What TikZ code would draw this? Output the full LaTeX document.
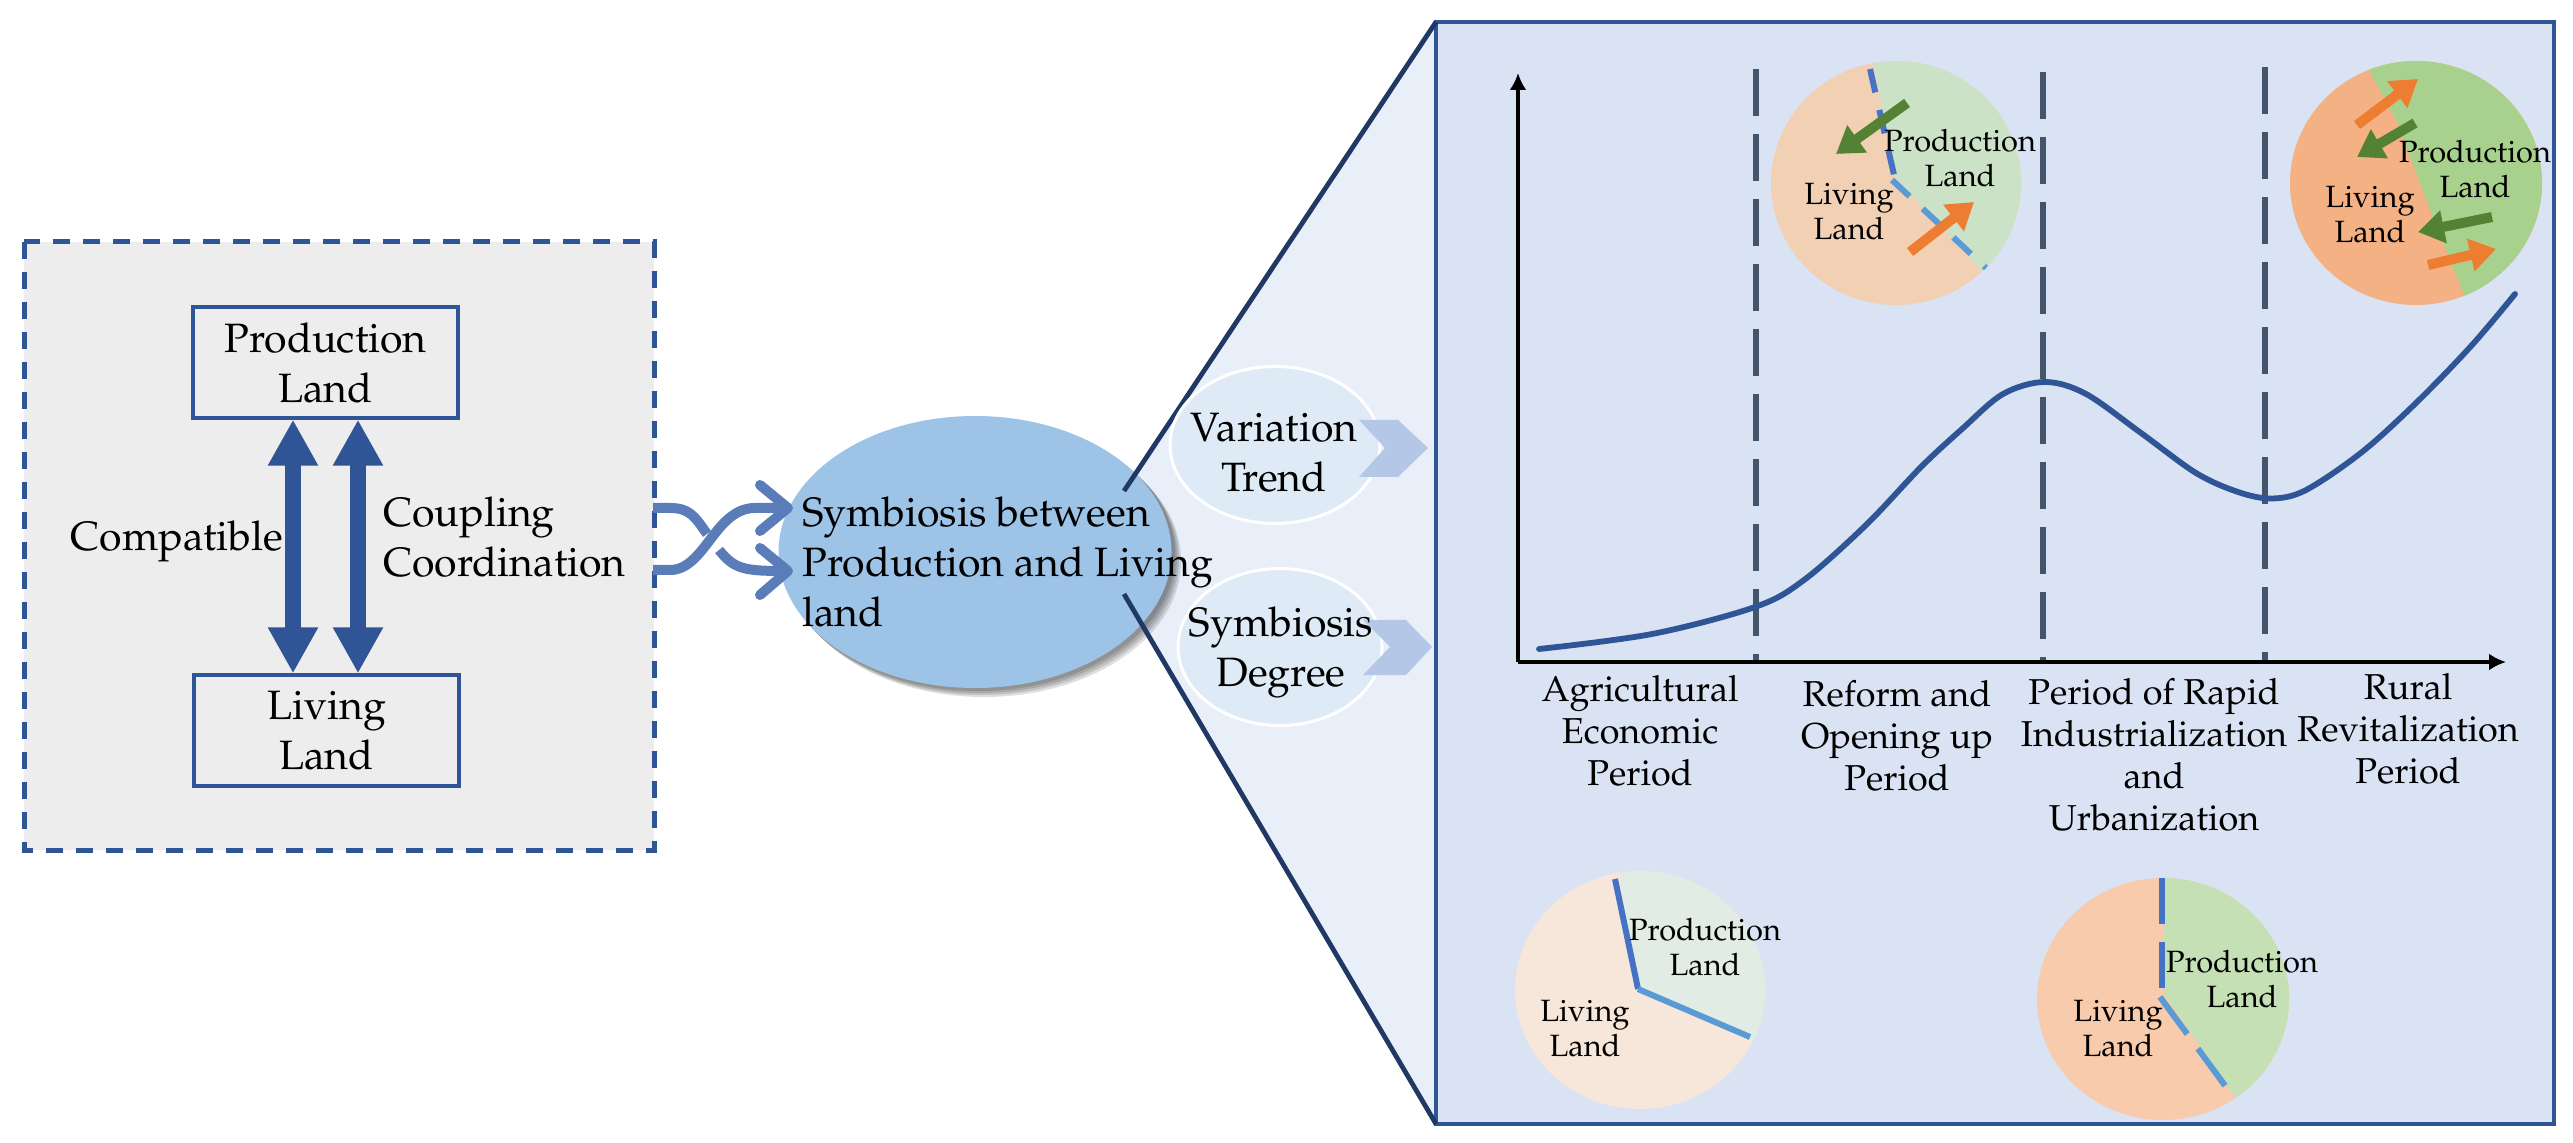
\documentclass[tikz,border=0pt]{standalone}
\usepackage[T1]{fontenc}
\usepackage{mathpazo}
\usetikzlibrary{arrows.meta,shapes.geometric}
\definecolor{dkblue}{HTML}{2F5597}
\definecolor{navy}{HTML}{1F3864}
\definecolor{dashgrey}{HTML}{44546A}
\definecolor{twist}{HTML}{5A7DB9}
\definecolor{orangeA}{HTML}{ED7D31}
\definecolor{greenA}{HTML}{548235}
\definecolor{lineA}{HTML}{4472C4}
\definecolor{lineB}{HTML}{5B9BD5}
\definecolor{chev}{HTML}{B4C7E7}
\definecolor{smallfill}{HTML}{DEEBF7}
\definecolor{funnel}{HTML}{E9EFF8}
\definecolor{panel}{HTML}{DAE3F3}
\definecolor{mainblue}{HTML}{9DC3E6}
\tikzset{
  x=0.5pt,y=-0.5pt,
  big/.style={font=\fontsize{20.5}{25}\selectfont,align=center,inner sep=0pt,text=black},
  mid/.style={font=\fontsize{18}{21}\selectfont,align=center,inner sep=0pt,text=black},
  small/.style={font=\fontsize{15.4}{17.5}\selectfont,align=center,inner sep=0pt,text=black},
  landbox/.style={big,draw=dkblue,line width=1.6pt,minimum width=132.5pt,minimum height=55.5pt},
  dblarrow/.style={line width=8pt,draw=dkblue,{Triangle[length=23pt,width=23.5pt]}-{Triangle[length=23pt,width=23.5pt]}},
  twistline/.style={line width=5pt,draw=twist,line cap=round,line join=round},
  vdash/.style={line width=2.8pt,draw=dashgrey,dash pattern=on 23.5pt off 9pt},
  pieA/.style={line width=3pt,draw=lineA},
  pieB/.style={line width=3pt,draw=lineB},
  piedash/.style={dash pattern=on 23pt off 9pt},
  piedashs/.style={dash pattern=on 12pt off 9pt},
  oarrow/.style={line width=5pt,draw=orangeA,-{Triangle[length=13pt,width=16pt]}},
  garrow/.style={line width=5pt,draw=greenA,-{Triangle[length=13pt,width=16pt]}},
  axis/.style={line width=2.4pt,draw=black,-{Latex[length=8.5pt,width=8.5pt]}},
  chevron/.style={fill=chev,draw=none},
  smallell/.style={ellipse,fill=smallfill,draw=white,line width=1.5pt,inner sep=0pt,outer sep=0pt},
}
\begin{document}
\begin{tikzpicture}
\useasboundingbox (0,0) rectangle (2573,1143);
\fill[white] (0,0) rectangle (2573,1143);

% left dashed panel
\draw[dkblue,line width=2.5pt,fill=black!7,dash pattern=on 8.5pt off 6.5pt] (24,242) rectangle (654,850);
\node[landbox] (prod) at (325.5,362.5) {Production\\Land};
\node[landbox] (liv) at (326.5,730.5) {Living\\Land};
\coordinate (axa) at (293,546);
\coordinate (axb) at (358,546);
\draw[dblarrow] (prod.south -| axa) -- (liv.north -| axa);
\draw[dblarrow] (prod.south -| axb) -- (liv.north -| axb);
\node[big] (compat) at (177,541) {Compatible};
\node[big,anchor=west,align=left] (coup) at (383,537) {Coupling\\Coordination};

% funnel and right panel
\coordinate (fa) at (1124,491);
\coordinate (fb) at (1124,594);
\coordinate (fc) at (1436,22);
\coordinate (fd) at (1436,1124);
\fill[funnel] (fa) -- (fc) -- (fd) -- (fb) -- cycle;
\draw[dkblue,line width=1.8pt,fill=panel] (fc) rectangle (2554,1124);

% main ellipse with shadow
\foreach \o in {3,5,7,9}{
  \fill[black,opacity=.13] (975+\o,552+\o) ellipse [x radius=197,y radius=136];
}
\node[ellipse,fill=mainblue,minimum width=196.5pt,minimum height=136pt,inner sep=0pt,outer sep=0pt] (main) at (975,552) {};
\draw[navy,line width=2.4pt] (fa) -- (fc);
\draw[navy,line width=2.4pt] (fb) -- (fd);

% twisted arrows
\coordinate (ta) at (653,508);
\coordinate (tb) at (653,570);
\coordinate (te) at (788,508);
\coordinate (tf) at (788,571);
\draw[twistline,line cap=butt] (ta) -- (670,508) .. controls (690,508) and (695,517) .. (707,534);
\draw[twistline,line cap=butt] (719,550) .. controls (735,570) and (745,571) .. (tf);
\draw[twistline,line cap=butt] (tb) -- (670,570) .. controls (705,570) and (715,508) .. (755,508) -- (te);
\draw[twistline] (760,485) -- (te) -- (760,531);
\draw[twistline] (760,548) -- (tf) -- (760,595);
\node[big,anchor=west,align=left] (symtext) at (802,562) {Symbiosis between\\Production and Living\\land};

% small ellipses
\node[smallell,minimum width=105pt,minimum height=78.5pt] (var) at (1275,445) {};
\node[smallell,minimum width=102pt,minimum height=78.5pt] (deg) at (1280,647) {};
\fill[chevron] (1359,420) -- (1398,420) -- (1428,448) -- (1398,477) -- (1359,477) -- (1385,448) -- cycle;
\fill[chevron] (1363,620) -- (1406,620) -- (1432,647) -- (1406,675) -- (1363,675) -- (1390,647) -- cycle;
\node[big] (vartext) at (1274,453) {Variation\\Trend};
\node[big] (degtext) at (1281,652) {Symbiosis\\Degree};

% dashed verticals
\coordinate (axo) at (1518,662);
\foreach \xx/\yy in {1756/69,2043/72,2265/67}{
  \draw[vdash] (\xx,\yy) -- (\xx,661);
}
% axes
\draw[axis] (axo) -- (1518,73);
\draw[axis] (axo) -- (2506,662);

% curve
\draw[dkblue,line width=2.9pt,line cap=round] plot[smooth,tension=.55] coordinates {
(1539,649) (1652,634) (1755,607) (1804,580) (1866,525) (1921,467) (1962,429) (2003,394) (2045,382) (2086,394) (2141,433) (2196,473) (2238,492) (2272,498.5) (2306,490) (2362,452) (2417,402) (2472,345) (2515,294)};

% axis labels
\node[mid] (l1) at (1640,731) {Agricultural\\Economic\\Period};
\node[mid] (l2) at (1897,736) {Reform and\\Opening up\\Period};
\node[mid] (l3) at (2154,755) {Period of Rapid\\Industrialization\\and\\Urbanization};
\node[mid] (l4) at (2408,729) {Rural\\Revitalization\\Period};

% pie 1
\begin{scope}
\clip (1896,183) ellipse [x radius=125,y radius=122];
\definecolor{p1l}{HTML}{F1D0B4}\definecolor{p1p}{HTML}{CBE2C6}
\fill[p1l] (1760,50) rectangle (2030,320);
\fill[p1p] (1871,50) -- (1895,177) -- (1995,285) -- (2040,285) -- (2040,50) -- cycle;
\end{scope}
\draw[pieA,piedashs] (1870,69) -- (1894,175);
\draw[pieB,piedashs] (1892,180) -- (1986,268);
\draw[garrow] (1907,103) -- (1836,154);
\draw[oarrow] (1910,252) -- (1974,202);
\node[small] (t1a) at (1960,158) {Production\\Land};
\node[small] (t1b) at (1849,211) {Living\\Land};

% pie 2
\begin{scope}
\clip (2416,183) ellipse [x radius=126,y radius=122];
\definecolor{p2l}{HTML}{F4B183}\definecolor{p2p}{HTML}{A9D18E}
\fill[p2l] (2280,50) rectangle (2550,320);
\fill[p2p] (2358,50) -- (2396,120) -- (2429,207) -- (2470,310) -- (2550,310) -- (2550,50) -- cycle;
\end{scope}
\draw[oarrow] (2357,125) -- (2418,79);
\draw[garrow] (2415,123) -- (2357,157);
\draw[garrow] (2492,217) -- (2418,232);
\draw[oarrow] (2428,265) -- (2496,249);
\node[small] (t2a) at (2475,169) {Production\\Land};
\node[small] (t2b) at (2370,214) {Living\\Land};

% pie 3
\begin{scope}
\clip (1640,990) ellipse [x radius=125,y radius=119];
\definecolor{p3l}{HTML}{F6E7DA}\definecolor{p3p}{HTML}{E1ECE4}
\fill[p3l] (1500,860) rectangle (1780,1120);
\fill[p3p] (1617,860) -- (1638,989) -- (1760,1045) -- (1780,1045) -- (1780,860) -- cycle;
\end{scope}
\draw[pieA] (1615,879) -- (1638,989);
\draw[pieB] (1638,989) -- (1750,1037);
\node[small] (t3a) at (1705,947) {Production\\Land};
\node[small] (t3b) at (1585,1028) {Living\\Land};

% pie 4
\begin{scope}
\clip (2163,999) ellipse [x radius=126,y radius=121];
\definecolor{p4l}{HTML}{F8CBAD}\definecolor{p4p}{HTML}{C5E0B4}
\fill[p4l] (2030,870) rectangle (2300,1130);
\fill[p4p] (2163,870) -- (2163,992) -- (2240,1105) -- (2300,1105) -- (2300,870) -- cycle;
\end{scope}
\draw[pieA,piedash] (2162,878) -- (2162,990);
\draw[pieB,piedash] (2160,997) -- (2226,1087);
\node[small] (t4a) at (2242,979) {Production\\Land};
\node[small] (t4b) at (2118,1028) {Living\\Land};
\end{tikzpicture}
\end{document}
